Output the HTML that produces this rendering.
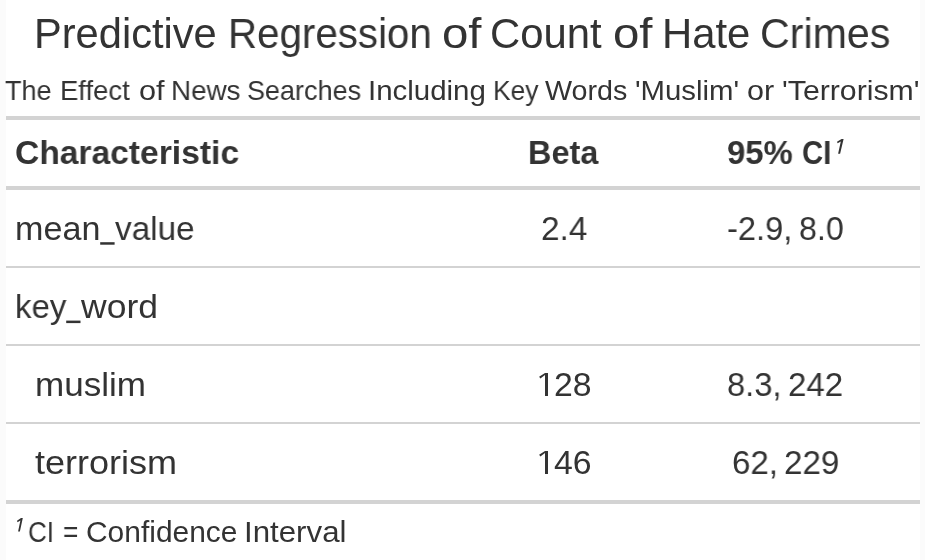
<!DOCTYPE html>
<html><head><meta charset="utf-8"><style>
html,body{margin:0;padding:0;}
body{width:925px;height:560px;background:#fbfbfb;position:relative;overflow:hidden;font-family:"Liberation Sans",sans-serif;color:#333333;}
.box{position:absolute;left:6px;top:0;width:914px;height:560px;background:#ffffff;}
.ln{position:absolute;left:6px;width:914px;background:#d3d3d3;}
.t{position:absolute;white-space:nowrap;transform-origin:0 0;will-change:transform;}
</style></head><body>
<div class="box"></div>
<div class="ln" style="top:116px;height:4px"></div><div class="ln" style="top:186px;height:4px"></div><div class="ln" style="top:266px;height:2px"></div><div class="ln" style="top:344px;height:2px"></div><div class="ln" style="top:422px;height:2px"></div><div class="ln" style="top:500px;height:4px"></div>
<div class="t" style="left:34.00px;top:13.00px;font-size:41.6px;line-height:41.6px;transform:scaleX(1.0006)">Predictive</div>
<div class="t" style="left:227.59px;top:13.00px;font-size:41.6px;line-height:41.6px;transform:scaleX(0.9688)">Regression</div>
<div class="t" style="left:441.92px;top:13.00px;font-size:41.6px;line-height:41.6px;transform:scaleX(1.1394)">of</div>
<div class="t" style="left:490.49px;top:13.00px;font-size:41.6px;line-height:41.6px;transform:scaleX(1.0055)">Count</div>
<div class="t" style="left:612.82px;top:13.00px;font-size:41.6px;line-height:41.6px;transform:scaleX(1.1394)">of</div>
<div class="t" style="left:661.78px;top:13.00px;font-size:41.6px;line-height:41.6px;transform:scaleX(1.0060)">Hate</div>
<div class="t" style="left:760.42px;top:13.00px;font-size:41.6px;line-height:41.6px;transform:scaleX(0.9891)">Crimes</div>
<div class="t" style="left:4.94px;top:75.60px;font-size:28.3px;line-height:28.3px;transform:scaleX(0.9553)">The</div>
<div class="t" style="left:60.26px;top:75.60px;font-size:28.3px;line-height:28.3px;transform:scaleX(0.9714)">Effect</div>
<div class="t" style="left:138.62px;top:75.60px;font-size:28.3px;line-height:28.3px;transform:scaleX(1.0826)">of</div>
<div class="t" style="left:171.04px;top:75.60px;font-size:28.3px;line-height:28.3px;transform:scaleX(0.9824)">News</div>
<div class="t" style="left:247.29px;top:75.60px;font-size:28.3px;line-height:28.3px;transform:scaleX(0.9538)">Searches</div>
<div class="t" style="left:368.48px;top:75.60px;font-size:28.3px;line-height:28.3px;transform:scaleX(1.0407)">Including</div>
<div class="t" style="left:492.73px;top:75.60px;font-size:28.3px;line-height:28.3px;transform:scaleX(0.9348)">Key</div>
<div class="t" style="left:545.10px;top:75.60px;font-size:28.3px;line-height:28.3px;transform:scaleX(1.0138)">Words</div>
<div class="t" style="left:635.16px;top:75.60px;font-size:28.3px;line-height:28.3px;transform:scaleX(1.0367)">'Muslim'</div>
<div class="t" style="left:747.02px;top:75.60px;font-size:28.3px;line-height:28.3px;transform:scaleX(1.0792)">or</div>
<div class="t" style="left:781.63px;top:75.60px;font-size:28.3px;line-height:28.3px;transform:scaleX(1.0683)">'Terrorism'</div>
<div class="t" style="left:15.41px;top:136.00px;font-size:33.8px;line-height:33.8px;font-weight:700;transform:scaleX(0.9937)">Characteristic</div>
<div class="t" style="left:527.78px;top:136.00px;font-size:33.8px;line-height:33.8px;font-weight:700;transform:scaleX(0.9597)">Beta</div>
<div class="t" style="left:727.03px;top:136.00px;font-size:33.8px;line-height:33.8px;font-weight:700;transform:scaleX(0.9727)">95%</div>
<div class="t" style="left:802.34px;top:136.00px;font-size:33.8px;line-height:33.8px;font-weight:700;transform:scaleX(0.8645)">CI</div>
<div class="t" style="left:15.18px;top:212.00px;font-size:33.8px;line-height:33.8px;transform:scaleX(1.0100)">mean</div>
<div class="t" style="left:114.60px;top:212.00px;font-size:33.8px;line-height:33.8px;transform:scaleX(0.9848)">value</div>
<div class="t" style="left:540.63px;top:212.00px;font-size:33.8px;line-height:33.8px;transform:scaleX(0.9864)">2.4</div>
<div class="t" style="left:726.87px;top:212.00px;font-size:33.8px;line-height:33.8px;transform:scaleX(0.9651)">-2.9,</div>
<div class="t" style="left:799.10px;top:212.00px;font-size:33.8px;line-height:33.8px;transform:scaleX(0.9523)">8.0</div>
<div class="t" style="left:15.05px;top:290.00px;font-size:33.8px;line-height:33.8px;transform:scaleX(0.9740)">key</div>
<div class="t" style="left:80.80px;top:290.00px;font-size:33.8px;line-height:33.8px;transform:scaleX(1.0507)">word</div>
<div class="t" style="left:34.63px;top:368.00px;font-size:33.8px;line-height:33.8px;transform:scaleX(1.0369)">muslim</div>
<div class="t" style="left:554.00px;top:368.00px;font-size:33.8px;line-height:33.8px;transform:scaleX(1.0000)">28</div>
<div class="t" style="left:727.47px;top:368.00px;font-size:33.8px;line-height:33.8px;transform:scaleX(0.9667)">8.3,</div>
<div class="t" style="left:788.44px;top:368.00px;font-size:33.8px;line-height:33.8px;transform:scaleX(0.9792)">242</div>
<div class="t" style="left:34.63px;top:446.00px;font-size:33.8px;line-height:33.8px;transform:scaleX(1.0662)">terrorism</div>
<div class="t" style="left:554.10px;top:446.00px;font-size:33.8px;line-height:33.8px;transform:scaleX(0.9971)">46</div>
<div class="t" style="left:731.64px;top:446.00px;font-size:33.8px;line-height:33.8px;transform:scaleX(0.9810)">62,</div>
<div class="t" style="left:784.33px;top:446.00px;font-size:33.8px;line-height:33.8px;transform:scaleX(0.9830)">229</div>
<div class="t" style="left:28.46px;top:517.00px;font-size:29.9px;line-height:29.9px;transform:scaleX(0.8720)">CI</div>
<div class="t" style="left:63.02px;top:517.00px;font-size:29.9px;line-height:29.9px;transform:scaleX(0.8800)">=</div>
<div class="t" style="left:86.20px;top:517.00px;font-size:29.9px;line-height:29.9px;transform:scaleX(1.0014)">Confidence</div>
<div class="t" style="left:244.46px;top:517.00px;font-size:29.9px;line-height:29.9px;transform:scaleX(1.0452)">Interval</div>
<svg width="925" height="560" style="position:absolute;left:0;top:0"><g fill="#333333"><path d="M545,373 L548,373 L548,396 L545,396 L545,375 L540.4,378.6 L539.1,376.8 Z"/><path d="M545,451 L548,451 L548,474 L545,474 L545,453 L540.4,456.6 L539.1,454.8 Z"/></g><g fill="#333333"><rect x="100.2" y="242.2" width="14.4" height="2.5"/><rect x="66.2" y="320.6" width="14.3" height="2.5"/><path d="M838.1,153.7 L840.1,153.7 L843.6,139.0 L841.6,139.0 L837.0,141.7 L837.6,143.3 L840.8,141.6 Z"/><path d="M18.1,531.6 L19.9,531.6 L22.8,518.0 L21.0,518.0 L17.0,520.7 L17.5,522.3 L20.4,520.6 Z"/></g></svg>
</body></html>
